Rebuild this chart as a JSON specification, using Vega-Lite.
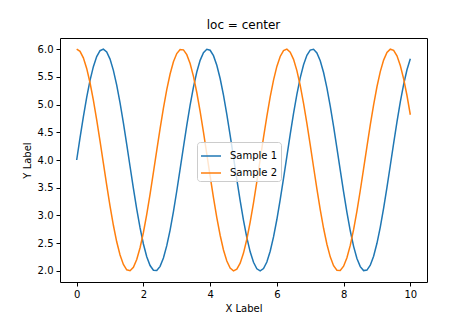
{
  "$schema": "https://vega.github.io/schema/vega-lite/v6.json",
  "autosize": "none",
  "width": 367,
  "height": 244,
  "padding": {"left": 60, "top": 38, "right": 47, "bottom": 34},
  "background": "white",
  "title": {"text": "loc = center", "fontSize": 12, "fontWeight": "normal", "font": "DejaVu Sans", "color": "black", "offset": 6},
  "config": {
    "view": {"stroke": "black", "strokeWidth": 1},
    "font": "DejaVu Sans",
    "axis": {"grid": false, "domain": false, "tickColor": "black", "tickSize": 4, "labelFontSize": 10, "labelColor": "black", "titleFontSize": 10, "titleFontWeight": "normal", "titleColor": "black", "labelPadding": 3}
  },
  "data": {"values": [
    {"x":0.0,"Sample 1":4.000,"Sample 2":6.000},
    {"x":0.1,"Sample 1":4.397,"Sample 2":5.960},
    {"x":0.2,"Sample 1":4.779,"Sample 2":5.842},
    {"x":0.3,"Sample 1":5.129,"Sample 2":5.651},
    {"x":0.4,"Sample 1":5.435,"Sample 2":5.393},
    {"x":0.5,"Sample 1":5.683,"Sample 2":5.081},
    {"x":0.6,"Sample 1":5.864,"Sample 2":4.725},
    {"x":0.7,"Sample 1":5.971,"Sample 2":4.340},
    {"x":0.8,"Sample 1":5.999,"Sample 2":3.942},
    {"x":0.9,"Sample 1":5.948,"Sample 2":3.546},
    {"x":1.0,"Sample 1":5.819,"Sample 2":3.168},
    {"x":1.1,"Sample 1":5.617,"Sample 2":2.823},
    {"x":1.2,"Sample 1":5.351,"Sample 2":2.525},
    {"x":1.3,"Sample 1":5.031,"Sample 2":2.286},
    {"x":1.4,"Sample 1":4.670,"Sample 2":2.116},
    {"x":1.5,"Sample 1":4.282,"Sample 2":2.020},
    {"x":1.6,"Sample 1":3.883,"Sample 2":2.003},
    {"x":1.7,"Sample 1":3.489,"Sample 2":2.066},
    {"x":1.8,"Sample 1":3.115,"Sample 2":2.206},
    {"x":1.9,"Sample 1":2.776,"Sample 2":2.418},
    {"x":2.0,"Sample 1":2.486,"Sample 2":2.693},
    {"x":2.1,"Sample 1":2.257,"Sample 2":3.019},
    {"x":2.2,"Sample 1":2.097,"Sample 2":3.385},
    {"x":2.3,"Sample 1":2.013,"Sample 2":3.776},
    {"x":2.4,"Sample 1":2.008,"Sample 2":4.175},
    {"x":2.5,"Sample 1":2.082,"Sample 2":4.567},
    {"x":2.6,"Sample 1":2.233,"Sample 2":4.937},
    {"x":2.7,"Sample 1":2.455,"Sample 2":5.269},
    {"x":2.8,"Sample 1":2.737,"Sample 2":5.551},
    {"x":2.9,"Sample 1":3.071,"Sample 2":5.771},
    {"x":3.0,"Sample 1":3.441,"Sample 2":5.920},
    {"x":3.1,"Sample 1":3.834,"Sample 2":5.993},
    {"x":3.2,"Sample 1":4.233,"Sample 2":5.986},
    {"x":3.3,"Sample 1":4.623,"Sample 2":5.900},
    {"x":3.4,"Sample 1":4.988,"Sample 2":5.739},
    {"x":3.5,"Sample 1":5.314,"Sample 2":5.508},
    {"x":3.6,"Sample 1":5.587,"Sample 2":5.217},
    {"x":3.7,"Sample 1":5.797,"Sample 2":4.877},
    {"x":3.8,"Sample 1":5.936,"Sample 2":4.503},
    {"x":3.9,"Sample 1":5.997,"Sample 2":4.108},
    {"x":4.0,"Sample 1":5.979,"Sample 2":3.709},
    {"x":4.1,"Sample 1":5.881,"Sample 2":3.322},
    {"x":4.2,"Sample 1":5.709,"Sample 2":2.961},
    {"x":4.3,"Sample 1":5.469,"Sample 2":2.643},
    {"x":4.4,"Sample 1":5.170,"Sample 2":2.378},
    {"x":4.5,"Sample 1":4.824,"Sample 2":2.178},
    {"x":4.6,"Sample 1":4.446,"Sample 2":2.050},
    {"x":4.7,"Sample 1":4.050,"Sample 2":2.001},
    {"x":4.8,"Sample 1":3.651,"Sample 2":2.031},
    {"x":4.9,"Sample 1":3.267,"Sample 2":2.139},
    {"x":5.0,"Sample 1":2.912,"Sample 2":2.322},
    {"x":5.1,"Sample 1":2.600,"Sample 2":2.571},
    {"x":5.2,"Sample 1":2.344,"Sample 2":2.878},
    {"x":5.3,"Sample 1":2.155,"Sample 2":3.229},
    {"x":5.4,"Sample 1":2.038,"Sample 2":3.611},
    {"x":5.5,"Sample 1":2.000,"Sample 2":4.009},
    {"x":5.6,"Sample 1":2.042,"Sample 2":4.406},
    {"x":5.7,"Sample 1":2.161,"Sample 2":4.787},
    {"x":5.8,"Sample 1":2.354,"Sample 2":5.137},
    {"x":5.9,"Sample 1":2.613,"Sample 2":5.441},
    {"x":6.0,"Sample 1":2.927,"Sample 2":5.688},
    {"x":6.1,"Sample 1":3.284,"Sample 2":5.867},
    {"x":6.2,"Sample 1":3.669,"Sample 2":5.972},
    {"x":6.3,"Sample 1":4.067,"Sample 2":5.999},
    {"x":6.4,"Sample 1":4.463,"Sample 2":5.946},
    {"x":6.5,"Sample 1":4.840,"Sample 2":5.815},
    {"x":6.6,"Sample 1":5.184,"Sample 2":5.612},
    {"x":6.7,"Sample 1":5.481,"Sample 2":5.344},
    {"x":6.8,"Sample 1":5.718,"Sample 2":5.023},
    {"x":6.9,"Sample 1":5.887,"Sample 2":4.662},
    {"x":7.0,"Sample 1":5.981,"Sample 2":4.273},
    {"x":7.1,"Sample 1":5.996,"Sample 2":3.874},
    {"x":7.2,"Sample 1":5.931,"Sample 2":3.480},
    {"x":7.3,"Sample 1":5.790,"Sample 2":3.107},
    {"x":7.4,"Sample 1":5.577,"Sample 2":2.769},
    {"x":7.5,"Sample 1":5.301,"Sample 2":2.481},
    {"x":7.6,"Sample 1":4.973,"Sample 2":2.253},
    {"x":7.7,"Sample 1":4.606,"Sample 2":2.094},
    {"x":7.8,"Sample 1":4.216,"Sample 2":2.012},
    {"x":7.9,"Sample 1":3.816,"Sample 2":2.008},
    {"x":8.0,"Sample 1":3.424,"Sample 2":2.085},
    {"x":8.1,"Sample 1":3.055,"Sample 2":2.237},
    {"x":8.2,"Sample 1":2.724,"Sample 2":2.460},
    {"x":8.3,"Sample 1":2.443,"Sample 2":2.744},
    {"x":8.4,"Sample 1":2.225,"Sample 2":3.079},
    {"x":8.5,"Sample 1":2.077,"Sample 2":3.450},
    {"x":8.6,"Sample 1":2.006,"Sample 2":3.843},
    {"x":8.7,"Sample 1":2.015,"Sample 2":4.242},
    {"x":8.8,"Sample 1":2.102,"Sample 2":4.632},
    {"x":8.9,"Sample 1":2.266,"Sample 2":4.996},
    {"x":9.0,"Sample 1":2.498,"Sample 2":5.321},
    {"x":9.1,"Sample 1":2.790,"Sample 2":5.593},
    {"x":9.2,"Sample 1":3.131,"Sample 2":5.801},
    {"x":9.3,"Sample 1":3.506,"Sample 2":5.938},
    {"x":9.4,"Sample 1":3.901,"Sample 2":5.998},
    {"x":9.5,"Sample 1":4.300,"Sample 2":5.977},
    {"x":9.6,"Sample 1":4.687,"Sample 2":5.878},
    {"x":9.7,"Sample 1":5.046,"Sample 2":5.705},
    {"x":9.8,"Sample 1":5.364,"Sample 2":5.463},
    {"x":9.9,"Sample 1":5.627,"Sample 2":5.163},
    {"x":10.0,"Sample 1":5.826,"Sample 2":4.816}
  ]},
  "transform": [{"fold": ["Sample 1", "Sample 2"], "as": ["series", "y"]}],
  "mark": {"type": "line", "strokeWidth": 1.5, "clip": true},
  "encoding": {
    "x": {"field": "x", "type": "quantitative", "title": "X Label",
          "scale": {"domain": [-0.5, 10.5], "nice": false, "zero": false},
          "axis": {"values": [0, 2, 4, 6, 8, 10], "format": "d", "titlePadding": 4}},
    "y": {"field": "y", "type": "quantitative", "title": "Y Label",
          "scale": {"domain": [1.8, 6.2], "nice": false, "zero": false},
          "axis": {"values": [2.0, 2.5, 3.0, 3.5, 4.0, 4.5, 5.0, 5.5, 6.0], "format": ".1f", "titlePadding": 5}},
    "color": {"field": "series", "type": "nominal",
              "scale": {"domain": ["Sample 1", "Sample 2"], "range": ["#1f77b4", "#ff7f0e"]},
              "legend": {"title": null, "orient": "none", "legendX": 137, "legendY": 104,
                         "symbolType": "M-1,0L1,0", "symbolSize": 400, "symbolStrokeWidth": 1.5,
                         "labelFontSize": 10, "labelColor": "black", "labelOffset": 8, "rowPadding": 1,
                         "padding": 3, "strokeColor": "#cccccc", "fillColor": "rgba(255,255,255,0.8)", "cornerRadius": 3}}
  }
}
